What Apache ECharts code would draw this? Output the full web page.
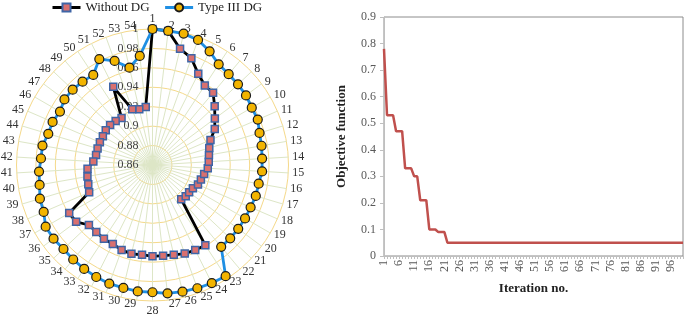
<!DOCTYPE html>
<html>
<head>
<meta charset="utf-8">
<script src="https://cdn.jsdelivr.net/npm/echarts@6/dist/echarts.min.js"></script>
<style>
  html, body { margin: 0; padding: 0; background: #fff; }
  #chart { width: 685px; height: 322px; }
</style>
</head>
<body>
<div id="chart"></div>
<script>
// ---- data ----
var buses = ['1','2','3','4','5','6','7','8','9','10','11','12','13','14','15','16','17','18',
  '19','20','21','22','23','24','25','26','27','28','29','30','31','32','33','34','35','36',
  '37','38','39','40','41','42','43','44','45','46','47','48','49','50','51','52','53','54'];

var withoutDG = [1.000, 0.999, 0.983, 0.977, 0.965, 0.958, 0.957, 0.948, 0.940, 0.934,
  0.925, 0.921, 0.919, 0.918, 0.917, 0.914, 0.912, 0.911, 0.908, 0.907,
  0.907, 0.906, 0.959, 0.958, 0.957, 0.955, 0.954, 0.954, 0.953, 0.954,
  0.953, 0.951, 0.951, 0.950, 0.950, 0.958, 0.959, 0.931, 0.929, 0.928,
  0.927, 0.921, 0.919, 0.919, 0.919, 0.919, 0.920, 0.920, 0.919, 0.918,
  0.950, 0.921, 0.919, 0.920];

var typeIIIDG = [1.000, 0.999, 0.999, 0.997, 0.991, 0.984, 0.982, 0.981, 0.980, 0.978,
  0.978, 0.975, 0.974, 0.973, 0.973, 0.971, 0.971, 0.970, 0.970, 0.970,
  0.970, 0.970, 0.997, 0.996, 0.995, 0.994, 0.993, 0.991, 0.991, 0.990,
  0.990, 0.989, 0.988, 0.987, 0.986, 0.987, 0.987, 0.982, 0.981, 0.978,
  0.977, 0.975, 0.975, 0.972, 0.972, 0.970, 0.973, 0.973, 0.972, 0.971,
  0.982, 0.974, 0.963, 0.973];

var iterations = ['1','2','3','4','5','6','7','8','9','10','11','12','13','14','15','16','17','18','19','20',
  '21','22','23','24','25','26','27','28','29','30','31','32','33','34','35','36','37','38','39','40',
  '41','42','43','44','45','46','47','48','49','50','51','52','53','54','55','56','57','58','59','60',
  '61','62','63','64','65','66','67','68','69','70','71','72','73','74','75','76','77','78','79','80',
  '81','82','83','84','85','86','87','88','89','90','91','92','93','94','95','96','97','98','99','100'];

var objective = [0.78, 0.53, 0.53, 0.53, 0.47, 0.47, 0.47, 0.33, 0.33, 0.33,
  0.30, 0.30, 0.21, 0.21, 0.21, 0.10, 0.10, 0.10, 0.09, 0.09,
  0.09, 0.05, 0.05, 0.05, 0.05, 0.05, 0.05, 0.05, 0.05, 0.05,
  0.05, 0.05, 0.05, 0.05, 0.05, 0.05, 0.05, 0.05, 0.05, 0.05,
  0.05, 0.05, 0.05, 0.05, 0.05, 0.05, 0.05, 0.05, 0.05, 0.05,
  0.05, 0.05, 0.05, 0.05, 0.05, 0.05, 0.05, 0.05, 0.05, 0.05,
  0.05, 0.05, 0.05, 0.05, 0.05, 0.05, 0.05, 0.05, 0.05, 0.05,
  0.05, 0.05, 0.05, 0.05, 0.05, 0.05, 0.05, 0.05, 0.05, 0.05,
  0.05, 0.05, 0.05, 0.05, 0.05, 0.05, 0.05, 0.05, 0.05, 0.05,
  0.05, 0.05, 0.05, 0.05, 0.05, 0.05, 0.05, 0.05, 0.05, 0.05];

var SERIF = 'Liberation Serif';

// styles per series (shared by radar lines and legend keys)
var STYLE_NO_DG = {
  symbol: 'rect', symbolSize: 7,
  lineStyle: { color: '#000', width: 2.8 },
  itemStyle: { color: '#d9706f', borderColor: '#3f65a6', borderWidth: 1.5 }
};
var STYLE_DG3 = {
  symbol: 'circle', symbolSize: 9,
  lineStyle: { color: '#1f8fe3', width: 2.8 },
  itemStyle: { color: '#f2b400', borderColor: '#1a1a1a', borderWidth: 1.2 }
};

// echarts radar runs counter-clockwise -> feed bus 1 then 54, 53 ... 2 so it reads clockwise
var order = buses.map(function(b, i) { return i === 0 ? 0 : buses.length - i; });
function reorder(arr) { return order.map(function(i) { return arr[i]; }); }

// only the top axis (bus 1) shows value labels
var indicators = order.map(function(i, k) {
  var ind = { name: buses[i], min: 0.86, max: 1 };
  if (k === 0) ind.axisLabel = { show: true };
  return ind;
});

var chart = echarts.init(document.getElementById('chart'), null, { renderer: 'canvas' });

chart.setOption({
  animation: false,
  backgroundColor: '#fff',
  legend: {
    data: ['Without DG', 'Type III DG'],
    left: 46, top: -4,
    itemWidth: 28, itemHeight: 10, itemGap: 14,
    lineStyle: { width: 3 },
    textStyle: { fontFamily: SERIF, fontSize: 13, color: '#222' }
  },
  radar: {
    center: [152.5, 165],
    radius: 136,
    shape: 'circle',
    startAngle: 90,
    splitNumber: 7,
    indicator: indicators,
    axisName: { fontFamily: SERIF, fontSize: 12, color: '#333' },
    nameGap: 4,
    axisLine: { lineStyle: { color: '#dde6c6', width: 1 } },
    splitLine: { lineStyle: { color: '#f5d98a', width: 1 } },
    splitArea: { show: false },
    axisLabel: {
      show: false,
      margin: 14,
      fontFamily: SERIF, fontSize: 12, color: '#404040',
      formatter: function(v) { return +(+v).toFixed(2); }
    }
  },
  grid: {
    left: 384, top: 17, right: 2, bottom: 66,
    show: true, borderColor: '#8c8c8c', borderWidth: 1
  },
  xAxis: {
    type: 'category',
    data: iterations,
    boundaryGap: false,
    name: 'Iteration no.',
    nameLocation: 'middle',
    nameGap: 26,
    nameTextStyle: { fontFamily: SERIF, fontSize: 13, fontWeight: 'bold', color: '#222' },
    axisLine: { lineStyle: { color: '#bfbfbf' } },
    axisTick: { show: true, interval: 0, length: 3, lineStyle: { color: '#bfbfbf' } },
    axisLabel: { interval: 4, rotate: 90, fontFamily: SERIF, fontSize: 12, color: '#595959', margin: 4 }
  },
  yAxis: {
    type: 'value',
    min: 0, max: 0.9, interval: 0.1,
    name: 'Objective function',
    nameLocation: 'middle',
    nameGap: 36,
    nameTextStyle: { fontFamily: SERIF, fontSize: 13, fontWeight: 'bold', color: '#222' },
    axisLine: { show: true, lineStyle: { color: '#bfbfbf' } },
    axisTick: { show: true, length: 4, lineStyle: { color: '#bfbfbf' } },
    splitLine: { show: false },
    axisLabel: {
      fontFamily: SERIF, fontSize: 12, color: '#595959', margin: 8,
      formatter: function(v) { return +(+v).toFixed(1); }
    }
  },
  series: [
    // legend keys (line + marker), no data of their own
    Object.assign({ type: 'line', name: 'Without DG', data: [] }, STYLE_NO_DG),
    Object.assign({ type: 'line', name: 'Type III DG', data: [] }, STYLE_DG3),
    {
      type: 'radar',
      z: 2,
      data: [Object.assign({ name: 'Without DG', value: reorder(withoutDG) }, STYLE_NO_DG)]
    },
    {
      type: 'radar',
      z: 3,
      data: [Object.assign({ name: 'Type III DG', value: reorder(typeIIIDG) }, STYLE_DG3)]
    },
    {
      type: 'line',
      name: 'Objective',
      data: objective,
      showSymbol: false,
      symbol: 'none',
      lineStyle: { color: '#c0504d', width: 2.5 },
      itemStyle: { color: '#c0504d' }
    }
  ]
});
</script>
</body>
</html>
